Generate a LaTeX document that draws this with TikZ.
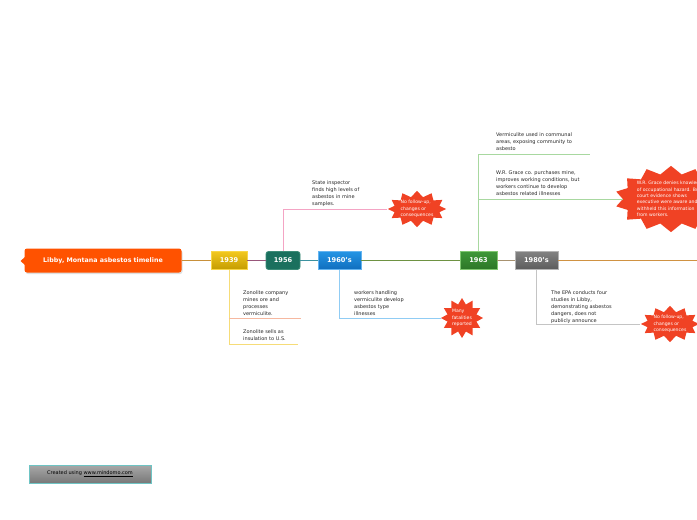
\documentclass[tikz,border=0pt]{standalone}
\usepackage{fontspec}
\setmainfont{DejaVu Sans}
\usetikzlibrary{shapes.symbols,shadows}
\definecolor{titleor}{RGB}{255,82,0}
\definecolor{burst}{RGB}{240,66,36}
\tikzset{
  yearbox/.style={draw, line width=0.8pt, minimum height=18pt, inner sep=0pt, text=white,
    font=\fontsize{6.6}{7}\selectfont\bfseries},
  note/.style={anchor=north west, inner sep=0pt, align=left, text=black!85,
    font=\fontsize{5}{6.9}\selectfont},
  burstnode/.style={starburst, random starburst=0, fill=burst, text=white, inner sep=0pt,
    align=left, font=\fontsize{4.6}{6.4}\selectfont},
  mainline/.style={line width=1.1pt},
  branch/.style={line width=0.6pt},
}
\begin{document}
\begin{tikzpicture}[x=1pt,y=-1pt]
\useasboundingbox (0,0) rectangle (697,520);
\clip (0,0) rectangle (697,520);
% title
\fill[titleor] (25,257) -- (20.5,261) -- (25,265) -- cycle;
\node[fill=titleor, rounded corners=2.5pt, minimum width=157pt, minimum height=24pt, inner sep=0pt,
  text=white, font=\fontsize{6.3}{7}\selectfont\bfseries, drop shadow={opacity=0.25, shadow xshift=1pt, shadow yshift=-1.5pt}]
  (title) at (103,260.5) {Libby, Montana asbestos timeline};
% year boxes
\node[yearbox, minimum width=36pt, top color={rgb,255:red,242;green,200;blue,30}, bottom color={rgb,255:red,196;green,156;blue,0}, draw={rgb,255:red,248;green,214;blue,70}] (y1939) at (229,260.5) {1939};
\node[yearbox, minimum width=34pt, rounded corners=2.5pt, fill={rgb,255:red,26;green,112;blue,94}, draw={rgb,255:red,60;green,140;blue,120}] (y1956) at (283,260.5) {1956};
\node[yearbox, minimum width=43pt, top color={rgb,255:red,36;green,148;blue,228}, bottom color={rgb,255:red,16;green,110;blue,190}, draw={rgb,255:red,100;green,180;blue,240}] (y1960) at (339.5,260.5) {1960's};
\node[yearbox, minimum width=37pt, top color={rgb,255:red,62;green,152;blue,56}, bottom color={rgb,255:red,44;green,118;blue,38}, draw={rgb,255:red,128;green,200;blue,112}] (y1963) at (478.5,260.5) {1963};
\node[yearbox, minimum width=43pt, top color={rgb,255:red,130;green,130;blue,130}, bottom color={rgb,255:red,92;green,92;blue,92}, draw={rgb,255:red,180;green,180;blue,180}] (y1980) at (536.5,260.5) {1980's};
\coordinate (lineend) at (697,260.5);
% main line
\draw[mainline, draw={rgb,255:red,200;green,144;blue,58}] (title.east) -- (y1939.west);
\draw[mainline, draw={rgb,255:red,152;green,86;blue,122}] (y1939.east) -- (y1956.west);
\draw[mainline, draw={rgb,255:red,60;green,146;blue,160}] (y1956.east) -- (y1960.west);
\draw[mainline, draw={rgb,255:red,110;green,146;blue,66}] (y1960.east) -- (y1963.west);
\draw[mainline, draw={rgb,255:red,168;green,146;blue,112}] (y1963.east) -- (y1980.west);
\draw[mainline, draw={rgb,255:red,208;green,146;blue,66}] (y1980.east) -- (lineend);
% 1939 branch
\coordinate (b39a) at (301,318);
\coordinate (b39b) at (298,344);
\draw[branch, draw={rgb,255:red,246;green,220;blue,120}] (y1939.south) -- (229,344) -- (b39b);
\draw[branch, draw={rgb,255:red,246;green,184;blue,160}] (229,318) -- (b39a);
\node[note] (t39a) at (243,290.5) {Zonolite company\\mines ore and\\processes\\vermiculite.};
\node[note] (t39b) at (243,329.5) {Zonolite sells as\\insulation to U.S.};
% 1956 branch
\node[burstnode, minimum width=50pt, minimum height=36pt, starburst points=12, starburst point height=6pt] (sb1) at (417,209) {No follow-up,\\changes or\\consequences};
\draw[branch, draw={rgb,255:red,244;green,164;blue,196}] (y1956.north) |- (sb1.west);
\node[note] (t56) at (312,180.5) {State inspector\\finds high levels of\\asbestos in mine\\samples.};
% 1960s branch
\node[burstnode, minimum width=42pt, minimum height=40pt, starburst points=12, starburst point height=6pt] (sb2) at (462,318) {Many\\fatalities\\reported};
\draw[branch, draw={rgb,255:red,144;green,204;blue,244}] (y1960.south) |- (sb2.west);
\node[note] (t60) at (354,290.5) {workers handling\\vermiculite develop\\asbestos type\\illnesses};
% 1963 branch
\coordinate (b63a) at (590,154);
\node[burstnode, minimum width=92pt, minimum height=62pt, starburst points=14, starburst point height=8pt, font=\fontsize{4.6}{6.4}\selectfont] (sb3) at (671,199) {W.R. Grace denies knowledge\\of occupational hazard. But\\court evidence shows\\executive were aware and\\withheld this information\\from workers.};
\draw[branch, draw={rgb,255:red,168;green,216;blue,160}] (y1963.north) |- (b63a);
\draw[branch, draw={rgb,255:red,168;green,216;blue,160}] (y1963.north) |- (sb3.west);
\node[note] (t63a) at (496,132.5) {Vermiculite used in communal\\areas, exposing community to\\asbesto};
\node[note] (t63b) at (496,170.5) {W.R. Grace co. purchases mine,\\improves working conditions, but\\workers continue to develop\\asbestos related illnesses};
% 1980s branch
\node[burstnode, minimum width=50pt, minimum height=36pt, starburst points=12, starburst point height=6pt] (sb4) at (670,324) {No follow-up,\\changes or\\consequences};
\draw[branch, draw={rgb,255:red,196;green,196;blue,196}] (y1980.south) |- (sb4.west);
\node[note] (t80) at (551,290.5) {The EPA conducts four\\studies in Libby,\\demonstrating asbestos\\dangers, does not\\publicly announce};
% footer
\node[draw={rgb,255:red,110;green,196;blue,196}, line width=0.8pt, top color={rgb,255:red,168;green,168;blue,168}, bottom color={rgb,255:red,120;green,120;blue,120},
  minimum width=122pt, minimum height=18pt, inner sep=0pt, font=\fontsize{5}{6}\selectfont] (footer) at (90,474) {Created using \underline{www.mindomo.com}};
\end{tikzpicture}
\end{document}
